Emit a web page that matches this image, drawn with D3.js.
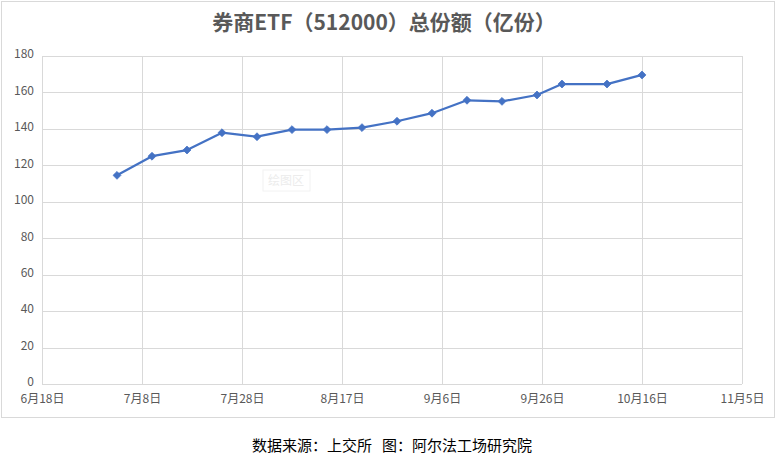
<!DOCTYPE html>
<html>
<head>
<meta charset="utf-8">
<script src="https://cdn.jsdelivr.net/npm/d3@7"></script>
<style>
  body { margin: 0; background: #fff; }
  text { font-family: "Noto Sans CJK SC", "Noto Sans", sans-serif; }
</style>
</head>
<body>
<div id="chart"></div>
<script>
// weekly share counts, 2020
const dates = ["2020-07-03", "2020-07-10", "2020-07-17", "2020-07-24", "2020-07-31",
  "2020-08-07", "2020-08-14", "2020-08-21", "2020-08-28", "2020-09-04",
  "2020-09-11", "2020-09-18", "2020-09-25", "2020-09-30", "2020-10-09", "2020-10-16"];
const shares = [114.5, 125.0, 128.4, 137.9, 135.7, 139.6, 139.6, 140.7, 144.2,
  148.6, 155.7, 155.1, 158.6, 164.6, 164.6, 169.6];
const xTicks = ["2020-06-18", "2020-07-08", "2020-07-28", "2020-08-17",
  "2020-09-06", "2020-09-26", "2020-10-16", "2020-11-05"];
const yTicks = [0, 20, 40, 60, 80, 100, 120, 140, 160, 180];

const titleText = "券商ETF（512000）总份额（亿份）";
const sourceText = "数据来源：上交所   图：阿尔法工场研究院";

let width = 779,
    height = 460,
    margin = { top: 56, left: 42, right: 37, bottom: 76 };

const parse = d3.timeParse("%Y-%m-%d");
const data = dates.map((d, i) => ({ date: parse(d), value: shares[i] }));
const tickDates = xTicks.map(parse);

let svg = d3.select("#chart")
  .append("svg")
    .attr("width", width)
    .attr("height", height);

// outer chart frame
svg.append("rect")
  .attr("x", 1.5).attr("y", 1.5)
  .attr("width", 773).attr("height", 416)
  .attr("fill", "#fff")
  .attr("stroke", "#d9d9d9");

let xScale = d3.scaleTime()
  .domain([tickDates[0], tickDates[tickDates.length - 1]])
  .range([margin.left, width - margin.right]);

let yScale = d3.scaleLinear()
  .domain([0, 180])
  .range([height - margin.bottom, margin.top]);

// horizontal gridlines
svg.append("g")
  .selectAll("line")
  .data(yTicks)
  .join("line")
    .attr("x1", margin.left).attr("x2", width - margin.right)
    .attr("y1", d => Math.round(yScale(d)) + 0.5)
    .attr("y2", d => Math.round(yScale(d)) + 0.5)
    .attr("stroke", "#d9d9d9");

// vertical gridlines
svg.append("g")
  .selectAll("line")
  .data(tickDates)
  .join("line")
    .attr("x1", d => Math.round(xScale(d)) + 0.5)
    .attr("x2", d => Math.round(xScale(d)) + 0.5)
    .attr("y1", yScale(180)).attr("y2", yScale(0))
    .attr("stroke", "#d9d9d9");

// y axis labels
let yAxis = d3.axisLeft(yScale).tickValues(yTicks).tickSize(0).tickPadding(8);
svg.append("g")
  .attr("transform", "translate(" + margin.left + ",-2)")
  .call(yAxis)
  .call(g => g.select(".domain").remove())
  .selectAll("text")
    .attr("fill", "#595959")
    .style("font-size", "12px");

// x axis labels
let xAxis = d3.axisBottom(xScale)
  .tickValues(tickDates)
  .tickFormat(d => (d.getMonth() + 1) + "月" + d.getDate() + "日")
  .tickSize(0).tickPadding(10);
svg.append("g")
  .attr("transform", "translate(0," + yScale(0) + ")")
  .call(xAxis)
  .call(g => g.select(".domain").remove())
  .selectAll("text")
    .attr("fill", "#595959")
    .style("font-size", "12px");

// faint "plot area" tooltip leftover
svg.append("rect")
  .attr("x", 263).attr("y", 170).attr("width", 47).attr("height", 21)
  .attr("fill", "#fff").attr("stroke", "#f2f2f2");
svg.append("text")
  .attr("x", 286).attr("y", 185)
  .attr("text-anchor", "middle")
  .attr("fill", "#ececec")
  .style("font-size", "12px")
  .text("绘图区");

// the series
let line = d3.line()
  .x(d => xScale(d.date))
  .y(d => yScale(d.value));

svg.append("path")
  .datum(data)
  .attr("d", line)
  .attr("fill", "none")
  .attr("stroke", "#4472c4")
  .attr("stroke-width", 2.25)
  .attr("stroke-linejoin", "round");

svg.append("g")
  .selectAll("path")
  .data(data)
  .join("path")
    .attr("d", d3.symbol(d3.symbolDiamond2, 40))
    .attr("transform", d => "translate(" + xScale(d.date) + "," + yScale(d.value) + ")")
    .attr("fill", "#4472c4")
    .attr("stroke", "#4472c4")
    .attr("stroke-width", 0.75);

// title
svg.append("text")
  .attr("x", 384).attr("y", 30)
  .attr("text-anchor", "middle")
  .attr("fill", "#595959")
  .style("font-size", "21px")
  .style("font-weight", "bold")
  .text(titleText);

// source note
svg.append("text")
  .attr("x", 392).attr("y", 451)
  .attr("text-anchor", "middle")
  .attr("fill", "#000")
  .style("font-size", "15px")
  .style("white-space", "pre")
  .text(sourceText);
</script>
</body>
</html>
